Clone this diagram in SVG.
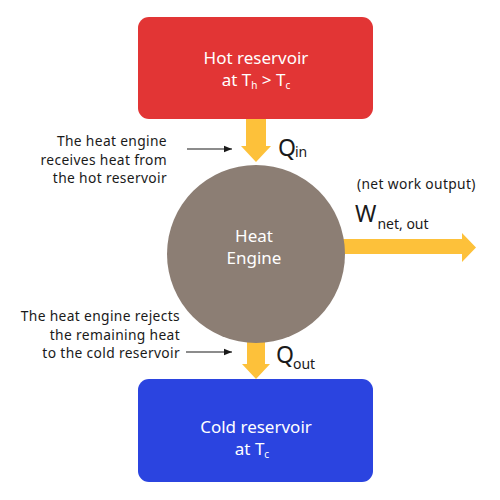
<svg xmlns="http://www.w3.org/2000/svg" width="500" height="500" viewBox="0 0 500 500">
<defs>
<style>
.w{fill:#ffffff;font-family:"Noto Sans","Open Sans",sans-serif;font-size:17px;text-anchor:middle}
.lab{fill:#1a1a1a;font-family:"Noto Sans","Open Sans",sans-serif;font-size:13.8px;letter-spacing:0.35px;text-anchor:end}
.q{fill:#1a1a1a;font-family:"Noto Sans","Open Sans",sans-serif;font-size:23px}
.flow{fill:#FDC13A}
.ptr{stroke:#1a1a1a;stroke-width:1.2;fill:none;marker-end:url(#ah)}
</style>
<marker id="ah" viewBox="0 0 10 10" refX="10" refY="5" markerWidth="8" markerHeight="8" markerUnits="userSpaceOnUse" orient="auto">
<path d="M0,1 L10,5 L0,9 z" fill="#1a1a1a"/>
</marker>
</defs>
<rect width="500" height="500" fill="#ffffff"/>
<g id="connectors">
<polygon class="flow" points="246,119 266,119 266,146 271,146 256,162 241,146 246,146"/>
<polygon class="flow" points="247,337 265,337 265,364 270,364 256,379 242,364 247,364"/>
<polygon class="flow" points="340,239 462,239 462,233 476,247.5 462,262 462,254 340,254"/>
<line class="ptr" x1="187" y1="149" x2="232" y2="149"/>
<line class="ptr" x1="186" y1="352" x2="232" y2="352"/>
<text class="q" x="278" y="156">Q<tspan font-size="14" dx="-1" dy="1">in</tspan></text>
<text class="q" x="276" y="363">Q<tspan font-size="14" dx="-1" dy="6">out</tspan></text>
<text class="q" x="355" y="222">W<tspan font-size="14" dx="1" dy="7">net, out</tspan></text>
<text class="lab" x="357" y="189" style="text-anchor:start;font-size:13.8px">(net work output)</text>
</g>
<g id="hot">
<rect x="138" y="17" width="235" height="102" rx="11" fill="#E23535"/>
<text class="w" x="256" y="64">Hot reservoir</text>
<text class="w" x="256" y="86">at T<tspan font-size="10" dy="3">h</tspan><tspan dy="-3"> &gt; T</tspan><tspan font-size="10" dy="3">c</tspan></text>
</g>
<g id="engine">
<circle cx="256" cy="254" r="89" fill="#8C7E74"/>
<text class="w" x="254" y="242">Heat</text>
<text class="w" x="254" y="264">Engine</text>
</g>
<g id="cold">
<rect x="138" y="379" width="235" height="103" rx="11" fill="#2B44E0"/>
<text class="w" x="256" y="433">Cold reservoir</text>
<text class="w" x="252" y="455">at T<tspan font-size="10" dy="3">c</tspan></text>
</g>
<g id="label-in">
<text class="lab" x="167" y="146">The heat engine</text>
<text class="lab" x="167" y="164.7">receives heat from</text>
<text class="lab" x="167" y="183.4">the hot reservoir</text>
</g>
<g id="label-out">
<text class="lab" x="180" y="321">The heat engine rejects</text>
<text class="lab" x="180" y="339.7">the remaining heat</text>
<text class="lab" x="180" y="358.4">to the cold reservoir</text>
</g>
</svg>
